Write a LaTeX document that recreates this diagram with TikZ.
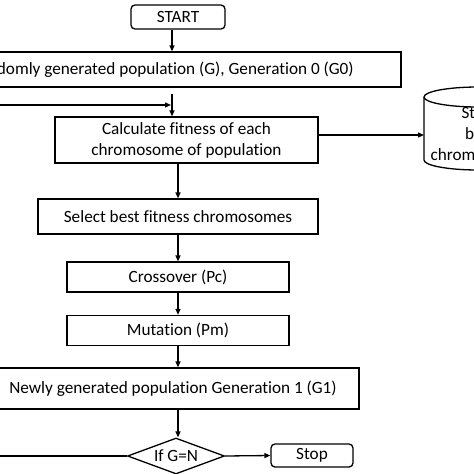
\documentclass[tikz,border=0pt]{standalone}
\usepackage{fontspec}
\setmainfont[RawFeature={-liga}]{Carlito}
\usetikzlibrary{arrows.meta,shapes.geometric}
\begin{document}
\begin{tikzpicture}[x=1pt,y=-1pt,
  every node/.style={font=\fontsize{17.2}{21}\selectfont},
  box/.style={draw,line width=1.3pt,inner sep=0pt,minimum height=#1},
  rbox/.style={draw,line width=1.3pt,rounded corners=4pt,inner sep=0pt},
  arr/.style={line width=1.3pt,-{Triangle[length=6pt,width=5pt]}},
  ln/.style={line width=1.3pt}]
\useasboundingbox (0,0) rectangle (474,474);
\clip (0,0) rectangle (474,474);
\fill[white] (0,0) rectangle (474,474);
% nodes
\node[rbox,minimum width=94pt,minimum height=24pt] (start) at (178,17) {START};
\node[box=35pt,minimum width=458pt] (b1) at (172,69.5) {\hspace*{-20pt}Randomly generated population (G), Generation 0 (G0)};
\node[box=46pt,minimum width=263pt,align=center] (b2) at (186.5,140) {Calculate fitness of each\\chromosome of population};
\node[box=35pt,minimum width=280pt] (b3) at (178,216.5) {Select best fitness chromosomes};
\node[box=30pt,minimum width=222pt] (b4) at (178,277) {Crossover (Pc)};
\node[box=30pt,minimum width=222pt] (b5) at (178,330.5) {Mutation (Pm)};
\node[box=41pt,minimum width=372pt] (b6) at (173,388.5) {Newly generated population Generation 1 (G1)};
\node[diamond,draw,line width=1.3pt,inner sep=0pt,minimum width=97pt,minimum height=36pt,aspect=2.7] (dia) at (176,456) {If G=N};
\node[rbox,minimum width=82pt,minimum height=23pt] (stop) at (312,455.5) {Stop};
% cylinder (store)
\draw[line width=1.3pt,fill=white] (424,97) -- (424,160) arc[start angle=180,end angle=360,x radius=54,y radius=-10] -- (532,97);
\draw[line width=1.3pt] (478,97) ellipse[x radius=54,y radius=10];
\node[align=center,font=\fontsize{17.2}{21}\selectfont] (cyl) at (480,134) {Store\\best\\chromosomes};
\coordinate (cylw) at (424,135);
\coordinate (join) at (172,105);
\coordinate (loopl) at (-20,456);
% connectors
\draw[arr] (start.south -| join) -- (b1.north -| join);
\draw[arr,shorten <=6pt] (b1.south -| join) -- (b2.north -| join);
\draw[arr] (loopl |- join) -- ([xshift=-1pt]join);
\draw[ln] (dia.west) -- (loopl) -- (loopl |- join);
\draw[arr] (b2.east |- cylw) -- (cylw);
\draw[arr] (b2.south -| b3.north) -- (b3.north);
\draw[arr] (b3.south) -- (b4.north);
\draw[arr] (b4.south) -- (b5.north);
\draw[arr] (b5.south) -- (b6.north -| b5.south);
\draw[arr] (b6.south -| b3.south) -- (dia.north -| b3.south);
\draw[arr] (dia.east) -- (stop.west);
\end{tikzpicture}
\end{document}
